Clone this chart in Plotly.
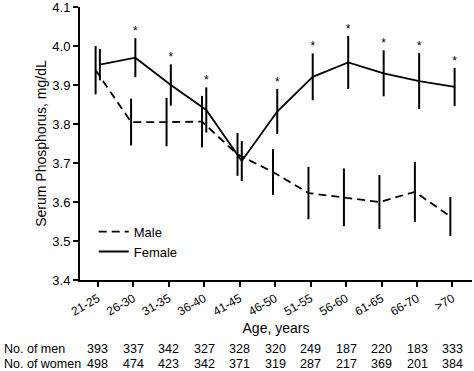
import plotly.graph_objects as go

categories = ['21-25', '26-30', '31-35', '36-40', '41-45', '46-50', '51-55', '56-60', '61-65', '66-70', '>70']
male = [3.938, 3.805, 3.805, 3.806, 3.722, 3.677, 3.623, 3.612, 3.600, 3.626, 3.563]
male_err = [0.062, 0.060, 0.062, 0.066, 0.055, 0.059, 0.067, 0.074, 0.069, 0.077, 0.050]
female = [3.952, 3.970, 3.900, 3.836, 3.705, 3.832, 3.921, 3.958, 3.930, 3.910, 3.895]
female_err = [0.040, 0.050, 0.053, 0.058, 0.051, 0.058, 0.060, 0.068, 0.059, 0.072, 0.049]
significant = [False, True, True, True, False, True, True, True, True, True, True]
men_n = [393, 337, 342, 327, 328, 320, 249, 187, 220, 183, 333]
women_n = [498, 474, 423, 342, 371, 319, 287, 217, 369, 201, 384]
y_ticks = [3.4, 3.5, 3.6, 3.7, 3.8, 3.9, 4.0, 4.1]

FONT = "Arial, Liberation Sans, sans-serif"
idx = list(range(len(categories)))
off = 0.06
xm = [i - off for i in idx]
xf = [i + off for i in idx]

fig = go.Figure()
fig.add_trace(go.Scatter(
    x=xm, y=male, mode='lines', name='Male',
    line=dict(color='black', width=1.8, dash='8px,5px'),
    error_y=dict(type='data', array=male_err, visible=True, width=0, thickness=2, color='black'),
))
fig.add_trace(go.Scatter(
    x=xf, y=female, mode='lines', name='Female',
    line=dict(color='black', width=1.8),
    error_y=dict(type='data', array=female_err, visible=True, width=0, thickness=2, color='black'),
))
sx = [x for x, s in zip(xf, significant) if s]
sy = [f + e for f, e, s in zip(female, female_err, significant) if s]
fig.add_trace(go.Scatter(
    x=sx, y=sy, mode='text', text=['*'] * len(sx), textposition='top center',
    textfont=dict(family=FONT, size=12, color='black'), showlegend=False, cliponaxis=False,
))

row_men_y = -0.254
row_women_y = -0.307
TFS = 12.5
annotations = []
annotations.append(dict(xref='paper', yref='paper', x=-0.199, y=row_men_y, text='No. of men',
                        showarrow=False, xanchor='left', yanchor='middle',
                        font=dict(family=FONT, size=TFS, color='black')))
annotations.append(dict(xref='paper', yref='paper', x=-0.199, y=row_women_y, text='No. of women',
                        showarrow=False, xanchor='left', yanchor='middle',
                        font=dict(family=FONT, size=TFS, color='black')))
for i, (m, w) in enumerate(zip(men_n, women_n)):
    annotations.append(dict(xref='x', yref='paper', x=i, y=row_men_y, text=str(m), showarrow=False,
                            xanchor='center', yanchor='middle', font=dict(family=FONT, size=TFS, color='black')))
    annotations.append(dict(xref='x', yref='paper', x=i, y=row_women_y, text=str(w), showarrow=False,
                            xanchor='center', yanchor='middle', font=dict(family=FONT, size=TFS, color='black')))

fig.update_layout(
    width=474, height=371,
    margin=dict(l=80, r=2, t=7, b=91, autoexpand=False),
    plot_bgcolor='white', paper_bgcolor='white',
    font=dict(family=FONT, size=12, color='black'),
    showlegend=True,
    legend=dict(x=0.035, y=0.232, xanchor='left', yanchor='top', bgcolor='rgba(0,0,0,0)',
                font=dict(family=FONT, size=13), tracegroupgap=0, itemwidth=30),
    annotations=annotations,
)
fig.update_xaxes(
    range=[-0.5, 10.55], tickmode='array', tickvals=idx, ticktext=categories,
    tickangle=-30, ticks='outside', ticklen=5, tickwidth=2, tickcolor='black',
    showline=True, linecolor='black', linewidth=2, showgrid=False, zeroline=False,
    tickfont=dict(family=FONT, size=12), automargin=False, ticklabeloverflow='allow',
    title=dict(text='Age, years', font=dict(family=FONT, size=14), standoff=6),
)
fig.update_yaxes(
    range=[3.4, 4.1], tickmode='array', tickvals=y_ticks, ticktext=[f'{v:.1f}' for v in y_ticks],
    ticks='outside', ticklen=5, tickwidth=2, tickcolor='black',
    showline=True, linecolor='black', linewidth=2, showgrid=False, zeroline=False,
    tickfont=dict(family=FONT, size=13), automargin=False, ticklabeloverflow='allow',
    title=dict(text='Serum Phosphorus, mg/dL', font=dict(family=FONT, size=14), standoff=2),
)

fig.write_html('out.html', config={'displayModeBar': False},
               post_script="document.body.style.margin='0';document.body.style.overflow='hidden';")
